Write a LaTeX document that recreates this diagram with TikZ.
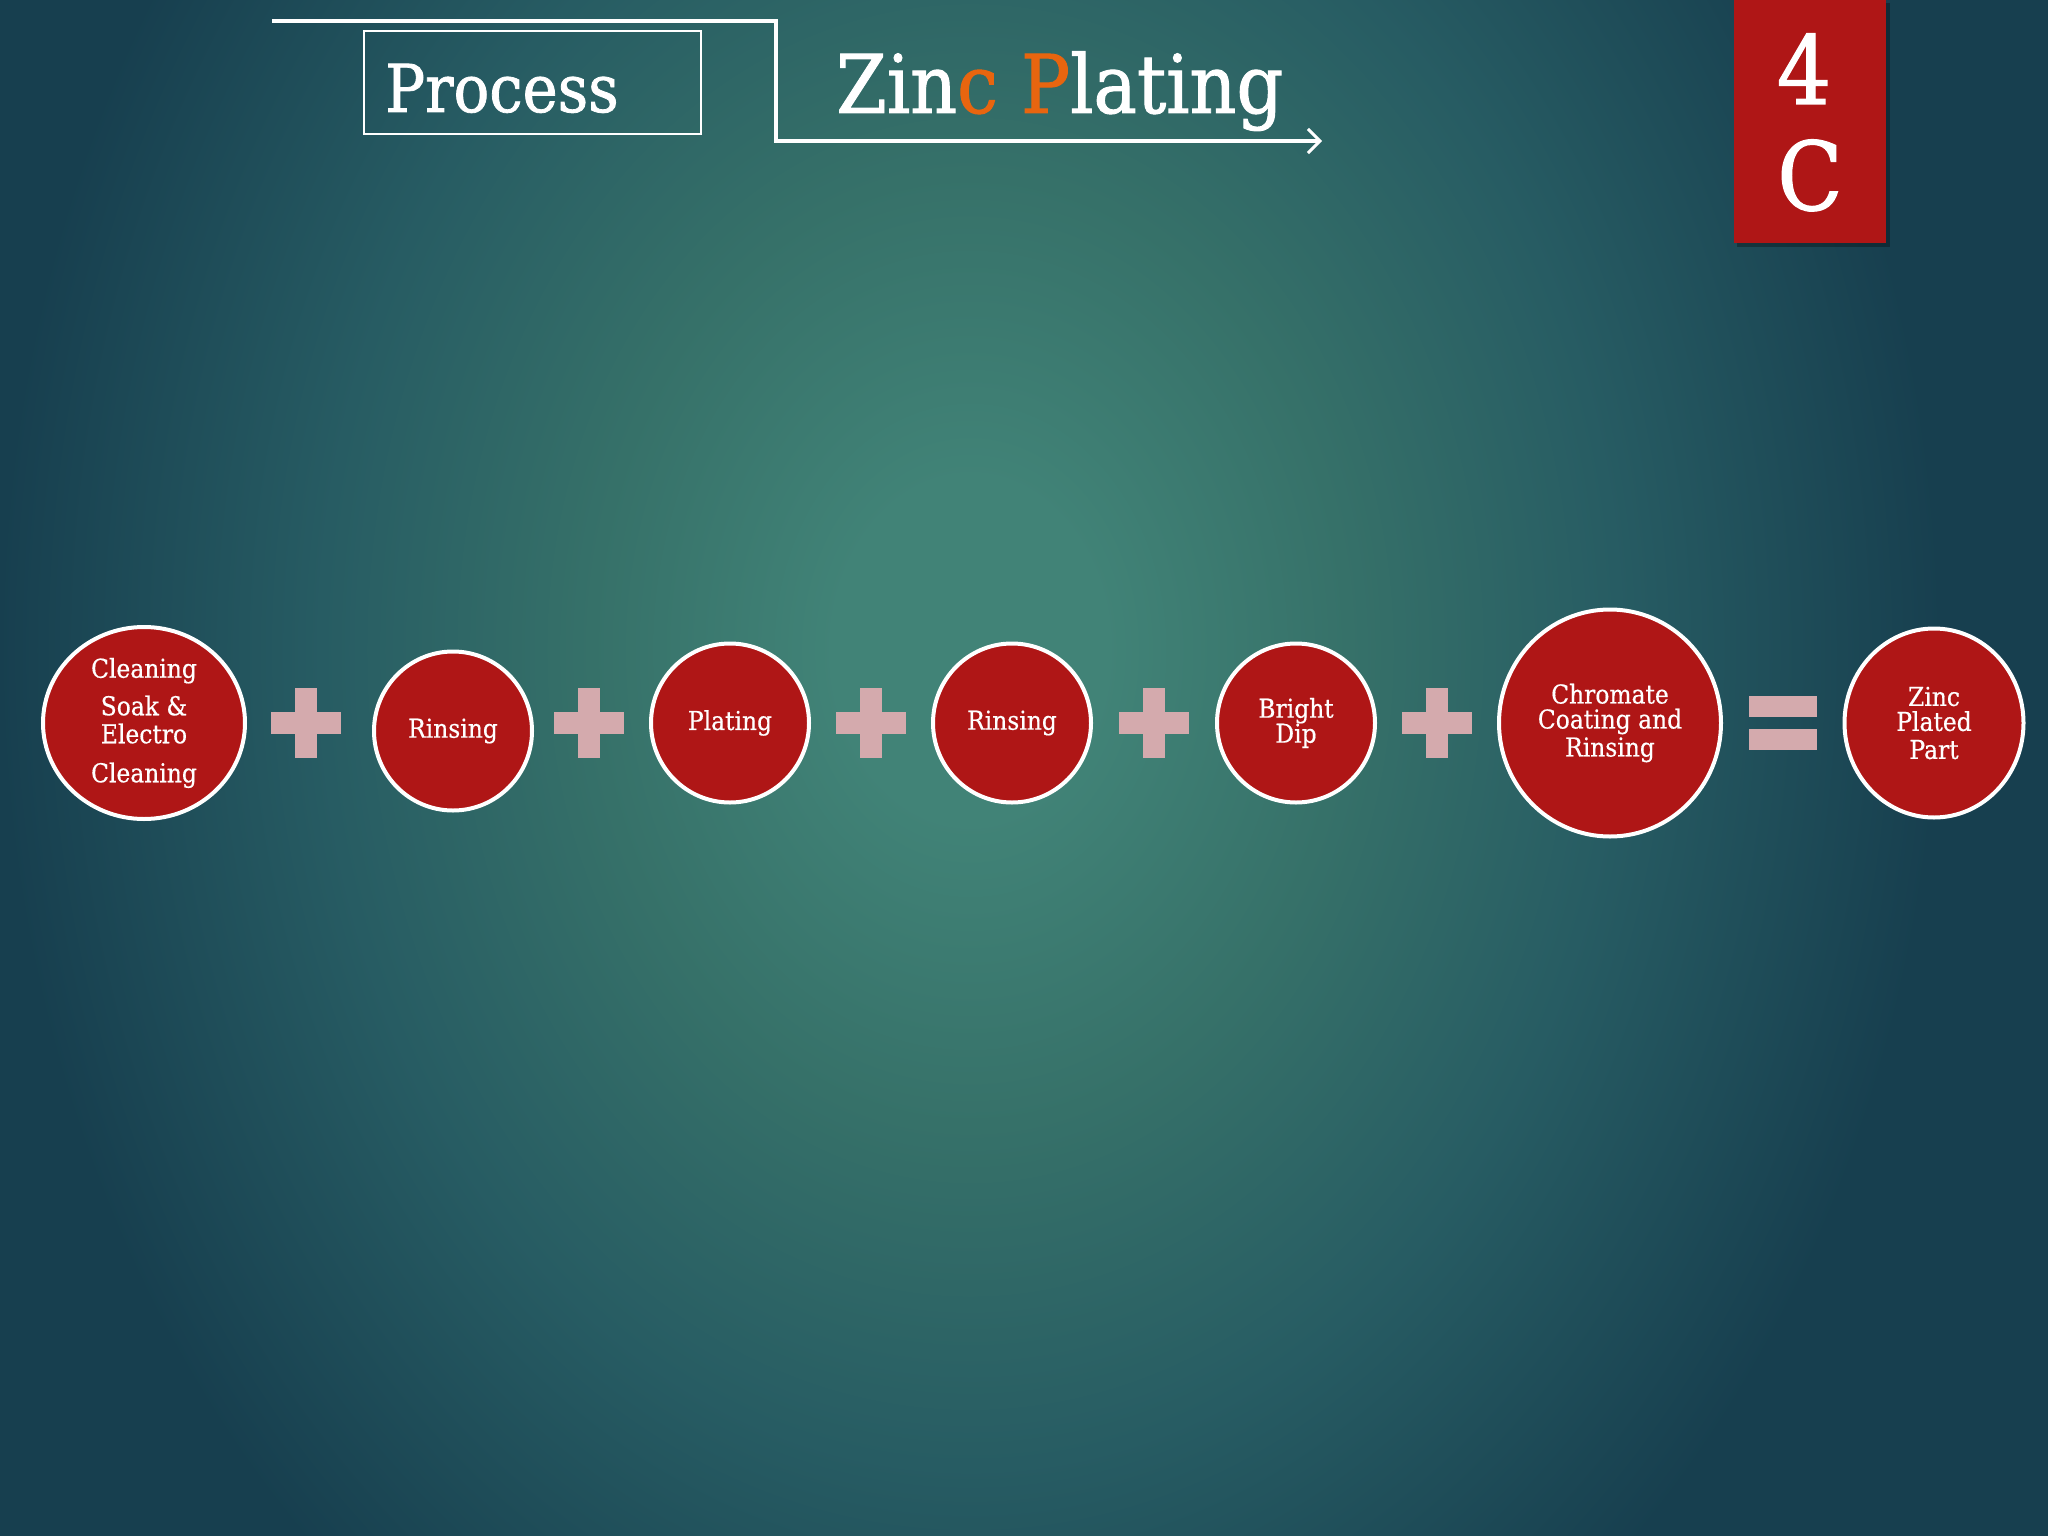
\documentclass[tikz,border=0pt]{standalone}
\usepackage{fontspec}
\setmainfont{DejaVu Serif}[FakeStretch=0.9]
\newfontfamily\headfont{DejaVu Serif}[FakeStretch=0.9, FakeBold=1.2]
\newfontfamily\stagefont{DejaVu Serif}[FakeStretch=0.9, FakeBold=0.5]
\usetikzlibrary{arrows.meta,shapes.geometric}
\definecolor{bgC}{HTML}{418377}
\definecolor{bgM1}{HTML}{367169}
\definecolor{bgM2}{HTML}{275C63}
\definecolor{bgE}{HTML}{173F4F}
\definecolor{stagered}{HTML}{AF1616}
\definecolor{pluscol}{HTML}{D4AAAD}
\definecolor{zorange}{HTML}{E8650F}
\pgfdeclareradialshading{bgshade}{\pgfpoint{0bp}{0bp}}{color(0bp)=(bgC); color(2.5bp)=(bgC); color(7bp)=(bgM1); color(12bp)=(bgM2); color(18bp)=(bgE); color(50bp)=(bgE)}
\tikzset{
  stage/.style={ellipse, fill=stagered, draw=white, line width=4pt, inner sep=0pt,
    align=center, text=white, font=\stagefont\fontsize{26}{28}\selectfont},
  opsign/.style={fill=pluscol},
  hline/.style={draw=white, line width=4pt},
}
\newcommand{\plussign}[2]{%
  \fill[opsign] (#1-35,#2-11) rectangle (#1+35,#2+11);
  \fill[opsign] (#1-11,#2-35) rectangle (#1+11,#2+35);}
\begin{document}
\begin{tikzpicture}[x=1pt,y=-1pt]
\useasboundingbox (0,0) rectangle (2048,1536);
\begin{scope}
  \clip (0,0) rectangle (2048,1536);
  \fill[bgE] (0,0) rectangle (2048,1536);
  \shade[shading=bgshade] (970,650) ellipse [x radius=1350, y radius=1700];
\end{scope}

% header
\coordinate (hs) at (272,21);
\coordinate (hc1) at (776,21);
\coordinate (hc2) at (776,141);
\coordinate (he) at (1322,141);
\draw[hline, -{Straight Barb[length=12pt,width=24pt,line width=3pt]}] (hs) -- (hc1) -- (hc2) -- (he);

\node[draw=white, line width=2pt, minimum width=337pt, minimum height=103pt, inner sep=0pt] (procbox) at (532.5,82.5) {};
\node[anchor=base west, inner sep=0pt, text=white, font=\headfont\fontsize{66}{70}\selectfont] (proc) at (385,112) {Process};
\node[anchor=base west, inner sep=0pt, text=white, font=\headfont\fontsize{81}{85}\selectfont] (title) at (836,113) {Zin\textcolor{zorange}{c P}lating};

% badge
\fill[black, opacity=0.3] (1737,3) rectangle (1890,247);
\node[fill=stagered, minimum width=152pt, minimum height=243pt, inner sep=0pt, anchor=north west] (badge) at (1734,0) {};
\node[anchor=base, inner sep=0pt, text=white, font=\headfont\fontsize{95}{100}\selectfont] (four) at (1804,104) {4};
\node[anchor=base, inner sep=0pt, text=white, font=\headfont\fontsize{95}{100}\selectfont] (cee) at (1810,210) {C};

% stages
\node[stage, minimum width=202pt, minimum height=192pt] (s1) at (144,723) {\raisebox{-3pt}{Cleaning}\\[11pt]Soak \&\\Electro\\[11pt]Cleaning};
\node[stage, minimum width=158pt, minimum height=159pt] (s2) at (453,731) {\raisebox{-3pt}{Rinsing}};
\node[stage, minimum width=158pt, minimum height=159pt] (s3) at (730,723) {\raisebox{-3pt}{Plating}};
\node[stage, minimum width=158pt, minimum height=159pt] (s4) at (1012,723) {\raisebox{-3pt}{Rinsing}};
\node[stage, minimum width=158pt, minimum height=159pt] (s5) at (1296,723) {\raisebox{-3pt}{Bright}\\Dip};
\node[stage, minimum width=222pt, minimum height=227pt] (s6) at (1610,723) {\raisebox{-3pt}{Chromate}\\Coating and\\Rinsing};
\node[stage, minimum width=179pt, minimum height=189pt] (s7) at (1934,723) {\raisebox{-3pt}{Zinc}\\Plated\\Part};

% operators
\plussign{306}{723}
\plussign{589}{723}
\plussign{871}{723}
\plussign{1154}{723}
\plussign{1437}{723}
\fill[opsign] (1749,696) rectangle (1817,717);
\fill[opsign] (1749,729) rectangle (1817,750);
\end{tikzpicture}
\end{document}
